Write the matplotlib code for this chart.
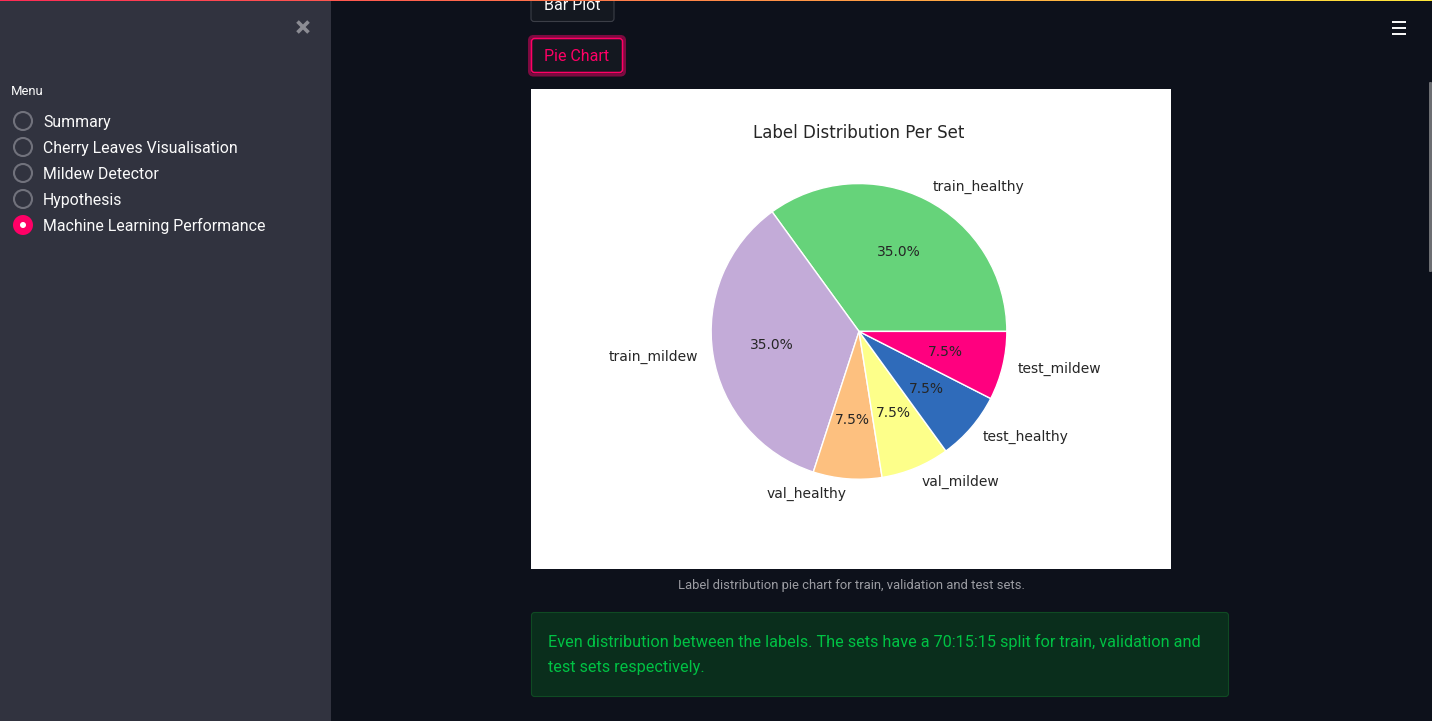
#!/usr/bin/env python3
# Streamlit page screenshot: label distribution pie chart
import numpy as np
import matplotlib
matplotlib.use("Agg")
import matplotlib.pyplot as plt
from matplotlib.colors import LinearSegmentedColormap
from matplotlib.patches import Rectangle, FancyBboxPatch, Circle

W, H = 1432, 721
UI_FONT = "Roboto"

# ---- data ----
labels = ["train_healthy", "train_mildew", "val_healthy", "val_mildew", "test_healthy", "test_mildew"]
shares = [35.0, 35.0, 7.5, 7.5, 7.5, 7.5]
colors = ["#66d37a", "#c3abd8", "#fdc07f", "#fdff8a", "#2f6bba", "#ff007f"]
menu_items = ["Summary", "Cherry Leaves Visualisation", "Mildew Detector", "Hypothesis", "Machine Learning Performance"]
menu_y = [121, 147, 173, 199, 225]
selected = 4
title = "Label Distribution Per Set"
caption = "Label distribution pie chart for train, validation and test sets."
note_lines = ["Even distribution between the labels. The sets have a 70:15:15 split for train, validation and",
              "test sets respectively."]

BG = "#0d111b"
SIDE = "#31333f"
PINK = "#ff0066"


def px(size):
    return size * 0.72


def box(ax, x0, y0, x1, y1, fc, ec, lw=1.0, r=3):
    ax.add_patch(FancyBboxPatch((x0 + r, y0 + r), x1 - x0 - 2 * r, y1 - y0 - 2 * r,
                                boxstyle=f"round,pad={r},rounding_size={r}", fc=fc, ec=ec, lw=lw))


fig = plt.figure(figsize=(W / 100, H / 100), dpi=100, facecolor=BG)
ui = fig.add_axes([0, 0, 1, 1])
ui.set_xlim(0, W); ui.set_ylim(H, 0); ui.axis("off")

# ---- sidebar ----
ui.add_patch(Rectangle((0, 0), 331, H, fc=SIDE, ec="none"))
ui.plot([297.5, 308.5], [21.5, 32.5], color="#8b8c93", lw=2.6, solid_capstyle="butt")
ui.plot([297.5, 308.5], [32.5, 21.5], color="#8b8c93", lw=2.6, solid_capstyle="butt")
ui.text(11, 95, "Menu", color="#fafafa", fontsize=px(13), family=UI_FONT, va="baseline")
for i, (name, y) in enumerate(zip(menu_items, menu_y)):
    if i == selected:
        ui.add_patch(Circle((23, y), 10, fc=PINK, ec="none"))
        ui.add_patch(Circle((23, y), 3, fc="white", ec="none"))
    else:
        ui.add_patch(Circle((23, y), 9, fc=SIDE, ec="#71727c", lw=1.5))
    ui.text(43, y + 5.7, name, color="#fafafa", fontsize=px(15.9), family=UI_FONT, va="baseline")

# ---- top gradient bar ----
bar = LinearSegmentedColormap.from_list("bar", ["#ff2b55", "#ffe83a"])
ui.imshow(np.linspace(0, 1, 256).reshape(1, -1), cmap=bar, extent=(0, W, 1.4, 0), aspect="auto", zorder=5)
ui.set_xlim(0, W); ui.set_ylim(H, 0)

# ---- buttons ----
box(ui, 531, -20, 614, 21.5, "#141820", "#3b3e47", lw=0.8)
ui.text(572.5, 9.5, "Bar Plot", color="#fafafa", fontsize=px(16), family=UI_FONT, ha="center", va="baseline")
box(ui, 529.5, 36.5, 624.5, 75, "#141820", "#7d0a40", lw=2.2, r=4)
box(ui, 531.5, 38.5, 622.5, 72.5, "#141820", PINK, lw=1.1)
ui.text(577, 61, "Pie Chart", color=PINK, fontsize=px(16), family=UI_FONT, ha="center", va="baseline")

# ---- hamburger and scrollbar ----
for y in [22, 28, 34]:
    ui.add_patch(Rectangle((1392, y - 1), 14, 2, fc="#f5f5f5", ec="none"))
box(ui, 1429, 82, 1432, 272, "#6c6e72", "none", lw=0, r=1)

# ---- chart panel ----
ui.add_patch(Rectangle((531, 89), 640, 480, fc="white", ec="none"))
ax = fig.add_axes([611 / W, (H - 516.2) / H, 496 / W, 369.6 / H])
ax.pie(shares, labels=labels, colors=colors, autopct="%1.1f%%",
       wedgeprops={"edgecolor": "white", "linewidth": 1.0},
       textprops={"fontsize": 10, "color": "#262626"})
ax.set_title(title, fontsize=12, color="#262626")

# ---- caption and note ----
ui.text(851, 589, caption, color="#9c9da3", fontsize=px(13), family=UI_FONT, ha="center", va="baseline")
box(ui, 531.5, 612.5, 1228.5, 696.5, "#0a2e1c", "#0f4a23", lw=0.8)
for line, y in zip(note_lines, [647, 672]):
    ui.text(548, y, line, color="#00c244", fontsize=px(16.27), family=UI_FONT, va="baseline")

fig.savefig("out.png", dpi=100, facecolor=BG)
